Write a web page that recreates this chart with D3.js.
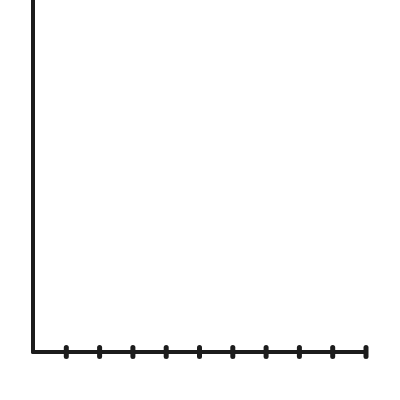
<!DOCTYPE html>
<html>
<head>
<meta charset="utf-8">
<script src="https://cdn.jsdelivr.net/npm/d3@7"></script>
<style>
  html, body { margin: 0; padding: 0; background: #fff; }
</style>
</head>
<body>
<div id="viz"></div>
<script>
//Datos del grafico (solo ejes, sin series)
var xDomain = [0, 10];
var xTicks = [1, 2, 3, 4, 5, 6, 7, 8, 9, 10];
var yDomain = [0, 1];

var width = 400, height = 400;
var margin = {left: 33, right: 34, top: -10, bottom: 48};

var svg = d3.select('#viz')
  .append('svg')
  .attr('width', width)
  .attr('height', height);

var x = d3.scaleLinear().domain(xDomain).range([margin.left, width - margin.right]);
var y = d3.scaleLinear().domain(yDomain).range([height - margin.bottom, margin.top]);

var color = '#1c1c1c';

//Eje Y (linea sola)
svg.append('line')
  .attr('x1', x(0)).attr('x2', x(0))
  .attr('y1', y(1)).attr('y2', y(0))
  .attr('stroke', color)
  .attr('stroke-width', 4)
  .attr('stroke-linecap', 'round');

//Eje X
svg.append('line')
  .attr('x1', x(0)).attr('x2', x(10))
  .attr('y1', y(0)).attr('y2', y(0))
  .attr('stroke', color)
  .attr('stroke-width', 4)
  .attr('stroke-linecap', 'round');

//Marcas del eje X
svg.selectAll('line.tick')
  .data(xTicks)
  .enter().append('line')
  .attr('class', 'tick')
  .attr('x1', function(d){ return x(d); })
  .attr('x2', function(d){ return x(d); })
  .attr('y1', y(0) - 4.5)
  .attr('y2', y(0) + 4.5)
  .attr('stroke', color)
  .attr('stroke-width', 5)
  .attr('stroke-linecap', 'round');
</script>
</body>
</html>
